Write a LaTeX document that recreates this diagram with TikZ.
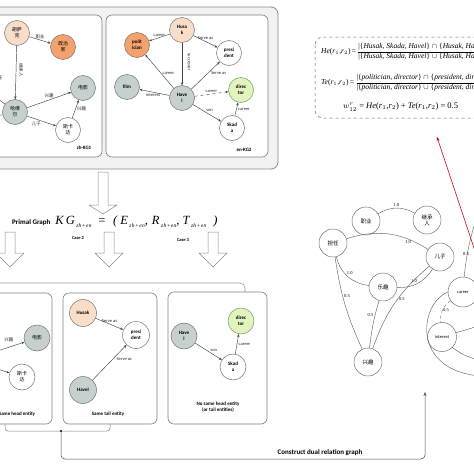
\documentclass[tikz,border=0pt]{standalone}
\usepackage{fontspec}
\setmainfont{Liberation Serif}
\newfontfamily\carl{Carlito}
\newfontfamily\cjk{Noto Sans CJK SC}
\usetikzlibrary{arrows.meta}
\definecolor{peach}{HTML}{FADDC9}
\definecolor{orng}{HTML}{F3A26D}
\definecolor{gryf}{HTML}{C6D0CF}
\definecolor{grnf}{HTML}{E2F3BD}
\definecolor{edgec}{HTML}{444444}
\definecolor{panelbg}{HTML}{F2F2F2}
\newcommand\holarrow[4]{%
 \draw[draw=black!45,fill=white,line width=0.5pt] (#1-5,#2) -- (#1+5,#2) -- (#1+5,#3) -- (#1+14,#3) -- (#1,#4) -- (#1-14,#3) -- (#1-5,#3) -- cycle;}
\newcommand\subzh{\hspace{1.5pt}\raisebox{-3pt}{\fontsize{5.5}{5.5}\selectfont z\hspace{0.3pt}h\hspace{0.5pt}+\hspace{0.5pt}e\hspace{0.3pt}n}}
\begin{document}
\begin{tikzpicture}[x=1pt,y=-1pt,
 zhn/.style={circle,draw=black!55,line width=0.5pt,inner sep=0pt,minimum size=25pt,align=center,font=\cjk\fontsize{5}{6}\selectfont},
 enn/.style={circle,draw=black!55,line width=0.5pt,inner sep=0pt,minimum size=25pt,align=center,font=\carl\bfseries\fontsize{5}{5.5}\selectfont},
 rel/.style={-{Stealth[length=3pt,width=2.4pt]},draw=edgec,line width=0.45pt},
 lab/.style={font=\carl\fontsize{4.5}{5}\selectfont,inner sep=0.5pt,text=black!85},
 zlab/.style={font=\cjk\fontsize{4.5}{5}\selectfont,inner sep=0.5pt,text=black!85},
 panel/.style={draw=black!50,line width=0.6pt,rounded corners=6pt,fill=white},
 ptext/.style={font=\carl\bfseries\fontsize{5}{6}\selectfont,align=center},
 dn/.style={circle,draw=black!60,line width=0.45pt,inner sep=0pt,minimum size=28pt,align=center,fill=white,font=\cjk\fontsize{5.5}{6}\selectfont},
 de/.style={draw=black!65,line width=0.4pt},
 wl/.style={font=\fontsize{4.5}{5}\selectfont,inner sep=0.5pt}]
\useasboundingbox (0,0) rectangle (474,474);
\fill[white] (0,0) rectangle (474,474);

% ---------- top panel ----------
\draw[draw=black!45,line width=0.8pt,fill=panelbg,rounded corners=7pt] (-12,7) rectangle (278,169);
\draw[panel] (-12,15) rectangle (102,157);
\draw[panel] (106,15) rectangle (268,157);

% zh-KG1
\node[zhn,fill=peach] (zhusak) at (17,33) {胡萨\\克};
\node[zhn,fill=orng] (zpol) at (63,47) {政治\\家};
\node[zhn,fill=gryf] (zhavel) at (15,112) {哈维\\尔};
\node[zhn,fill=gryf] (zfilm) at (83,88) {电影};
\node[zhn,fill=white] (zskada) at (68,130) {斯卡\\达};
\coordinate (zpres) at (-45,65);
\coordinate (zdir) at (-45,125);
\draw[rel] (zhusak) -- node[zlab,above=0.5pt] {职业} (zpol);
\draw[rel] (zhusak) -- (zhavel);
\node[zlab,rotate=-90] at (21,70) {继承人};
\draw[rel] (zhavel) -- node[zlab,above=1pt] {兴趣} (zfilm);
\draw[rel] (zhavel) -- node[zlab,below left=0pt] {儿子} (zskada);
\draw[rel] (zskada) -- node[zlab,right=1pt] {兴趣} (zfilm);
\draw[rel] (zhavel) -- (zpres);
\draw[rel] (zhavel) -- (zdir);
\node[zlab] at (-2,78) {担任};
\node[ptext] (zhlab) at (84,148) {zh-KG1};

% en-KG2
\node[enn,fill=peach] (ehusak) at (182,30) {Husa\\k};
\node[enn,fill=orng] (epol) at (137,45) {polit\\ician};
\node[enn,fill=white] (epres) at (229,53) {presi\\dent};
\node[enn,fill=gryf] (efilm) at (127,87) {film};
\node[enn,fill=gryf] (ehavel) at (182,98) {Have\\l};
\node[enn,fill=grnf,draw=green!40!black!60] (edir) at (241,90) {direc\\tor};
\node[enn,fill=white] (eskada) at (232,128) {Skad\\a};
\draw[rel] (ehusak) -- node[lab,above=0.5pt] {career} (epol);
\draw[rel] (ehavel) -- node[lab,pos=0.45,right=1pt] {career} (epol);
\draw[rel] (ehusak) -- (ehavel);
\node[lab,rotate=-90] at (189,62) {successor};
\draw[rel] (ehusak) -- node[lab,above=1pt] {Serve as} (epres);
\draw[rel] (ehavel) -- node[lab,pos=0.6,right=2pt] {Serve as} (epres);
\draw[rel,dashed] (ehavel) -- node[lab,above=0.5pt] {career} (edir);
\draw[rel] (ehavel) -- node[lab,pos=0.55,below=0.5pt] {interest} (efilm);
\draw[rel] (ehavel) -- node[lab,pos=0.45,above right=0pt] {son} (eskada);
\draw[rel] (eskada) -- node[lab,right=1pt] {career} (edir);
\node[ptext] (enlab) at (244,150) {en-KG2};

% ---------- arrows and primal graph ----------
\holarrow{103}{172}{205}{214}
\node[anchor=west,inner sep=0pt] (primal) at (12,222) {{\carl\bfseries\fontsize{7}{8}\selectfont Primal Graph}\hspace{5pt}{\fontsize{12.5}{14}\selectfont\itshape K\,G\subzh\hspace{6pt}=\hspace{7pt}(\hspace{3pt}E\subzh,\hspace{4pt}R\subzh,\hspace{3pt}T\subzh\hspace{7pt})}};
\holarrow{10}{232}{253}{267}
\holarrow{109}{232}{253}{267}
\holarrow{213}{232}{253}{267}
\node[ptext,font=\carl\bfseries\fontsize{4.5}{5}\selectfont] (case2) at (78,238) {Case 2};
\node[ptext,font=\carl\bfseries\fontsize{4.5}{5}\selectfont] (case3) at (183,240) {Case 3};

% ---------- case panels ----------
\draw[draw=black!40,line width=0.6pt,rounded corners=5pt] (-12,283) -- (245,283) -- (245,292);
\draw[panel] (-60,293) rectangle (52,424);
\draw[panel] (63,293) rectangle (157,424);
\draw[panel] (168,292) rectangle (267,424);
\draw[draw=black!50,line width=0.5pt,rounded corners=3pt] (5,424) -- (5,431) -- (110,431) -- (110,424);

% case 1
\node[zhn,fill=gryf,minimum size=26pt] (c1film) at (37,338) {电影};
\node[zhn,fill=white,minimum size=26pt] (c1skada) at (22,377) {斯卡\\达};
\coordinate (c1havel) at (-30,360);
\draw[rel] (c1havel) -- (c1film);
\node[zlab] at (9,340) {兴趣};
\draw[rel] (c1havel) -- (c1skada);
\node[ptext] (c1lab) at (17,414) {Same head entity};

% case 2
\node[enn,fill=peach,minimum size=27pt] (c2husak) at (83,313) {Husak};
\node[enn,fill=white,minimum size=27pt] (c2pres) at (136,335) {presi\\dent};
\node[enn,fill=gryf,minimum size=27pt] (c2havel) at (83,390) {Havel};
\draw[rel] (c2husak) -- node[lab,above=1pt] {Serve as} (c2pres);
\draw[rel] (c2havel) -- node[lab,pos=0.6,right=3pt] {Serve as} (c2pres);
\node[ptext] (c2lab) at (108,414) {Same tail entity};

% case 3
\node[enn,fill=gryf,minimum size=26pt] (c3havel) at (184,336) {Have\\l};
\node[enn,fill=grnf,draw=green!40!black!60,minimum size=26pt] (c3dir) at (241,321) {direc\\tor};
\node[enn,fill=white,minimum size=26pt] (c3skada) at (233,367) {Skad\\a};
\draw[rel] (c3havel) -- node[lab,pos=0.55,above right=0pt] {son} (c3skada);
\draw[rel] (c3skada) -- node[lab,right=1pt] {career} (c3dir);
\node[ptext] (c3lab) at (218,407) {No same head entity\\(or tail entities)};

% construct connector
\fill[black] (61,431) circle (1.2pt);
\coordinate (cstart) at (61,431);
\coordinate (cend) at (425,392);
\draw[-{Stealth[length=4pt,width=3pt]},draw=black!70,line width=0.5pt,rounded corners=4pt] (cstart) -- (61,459) -- (425,459) -- (cend);
\node[font=\carl\bfseries\fontsize{7}{8}\selectfont] (clab) at (320,453) {Construct dual relation graph};

% ---------- formula box ----------
\draw[dashed,draw=black!60,line width=0.5pt,rounded corners=8pt] (315,37) rectangle (510,118);
\node[anchor=west,inner sep=0pt,font=\fontsize{7.5}{8}\selectfont] (he) at (321,52) {\textit{He}(\textit{r}$_1$,\textit{r}$_2$)\,=\,$\displaystyle\frac{\mbox{|\{\textit{Husak, Skada, Havel}\} $\cap$ \{\textit{Husak, Havel}\}|}}{\mbox{|\{\textit{Husak, Skada, Havel}\} $\cup$ \{\textit{Husak, Havel}\}|}}$};
\node[anchor=west,inner sep=0pt,font=\fontsize{7.5}{8}\selectfont] (te) at (321,83) {\textit{Te}(\textit{r}$_1$,\textit{r}$_2$)\,=\,$\displaystyle\frac{\mbox{|\{\textit{politician, director}\} $\cap$ \{\textit{president, director}\}|}}{\mbox{|\{\textit{politician, director}\} $\cup$ \{\textit{president, director}\}|}}$};
\node[anchor=west,inner sep=0pt,font=\fontsize{8.5}{9}\selectfont] (wr) at (343,107) {$w^{r}_{12}$ = \textit{He}(\textit{r}$_1$,\textit{r}$_2$) + \textit{Te}(\textit{r}$_1$,\textit{r}$_2$) = 0.5};
\coordinate (rstart) at (482,272);
\coordinate (rend) at (437,137);
\draw[-{Stealth[length=4pt,width=3pt]},draw=red!75!black,line width=0.6pt] (rstart) -- (rend);

% ---------- dual relation graph ----------
\node[dn] (zy) at (366,221) {职业};
\node[dn] (jc) at (427,220) {继承\\人};
\node[dn] (dr) at (333,243) {担任};
\node[dn] (ez) at (440,257) {儿子};
\node[dn] (yq) at (383,287) {乐趣};
\node[dn] (xq) at (368,362) {兴趣};
\node[dn,minimum size=30pt,font=\carl\fontsize{4.5}{5}\selectfont] (ca) at (463,292) {career};
\node[dn,minimum size=29pt,font=\carl\fontsize{4.5}{5}\selectfont] (it) at (442,337) {interest};
\node[dn,minimum size=29pt] (cx) at (492,322) {};
\coordinate (cup) at (474,226);
\coordinate (cright) at (482,376);
\coordinate (iright) at (482,360);
\draw[de] (zy) to[bend left=30] node[wl,above=1pt] {1.0} (jc);
\draw[de] (dr) to[bend left=25] node[wl,pos=0.75,below=1pt] {1.0} (ez);
\draw[de] (dr) to[bend right=35] node[wl,pos=0.45,above right=0pt] {1.0} (yq);
\draw[de] (yq) to[bend right=30] node[wl,pos=0.5,above left=0pt] {1.0} (ez);
\draw[de] (dr) to[bend right=8] node[wl,pos=0.4,right=1pt] {0.5} (xq);
\draw[de] (yq) to[bend right=5] node[wl,pos=0.3,left=1pt] {0.5} (xq);
\draw[de] (ez) to[bend right=15] node[wl,pos=0.45,right=1pt] {0.5} (xq);
\draw[de] (ca) to[bend left=5] (cup);
\node[wl] at (466,254) {0.5};
\draw[de,dashed] (ca) to[bend right=30] node[wl,pos=0.5,right=0pt] {0.5} (it);
\draw[de] (ca.west) .. controls (418,305) and (412,372) .. (cright);
\node[wl] at (477,368) {0.5};
\draw[de] (it) -- (cx);
\draw[de] (it) to[bend right=15] (iright);
\end{tikzpicture}
\end{document}
